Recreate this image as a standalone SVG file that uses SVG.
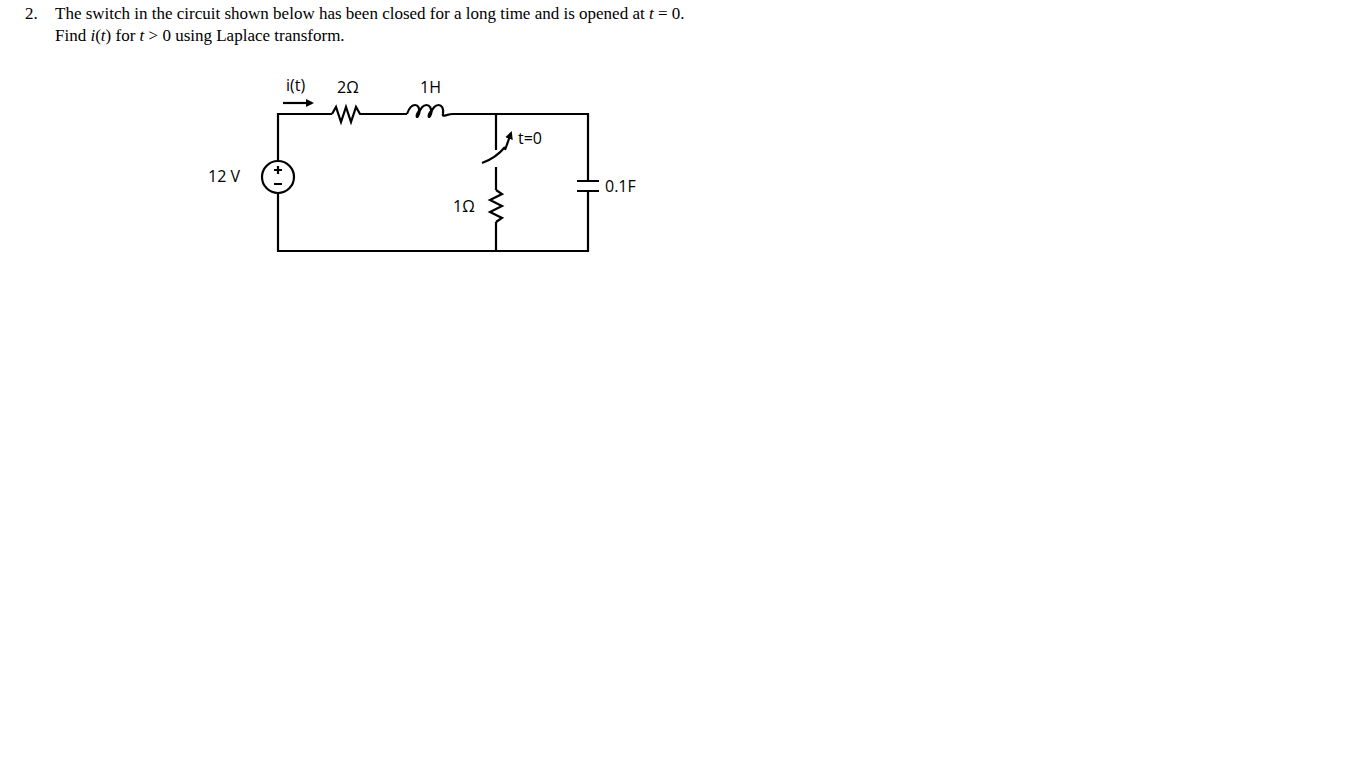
<svg xmlns="http://www.w3.org/2000/svg" width="1366" height="768" viewBox="0 0 1366 768">
<style>
.t{font-family:"Liberation Serif",serif;font-size:17px;fill:#000}
.l{font-family:"Open Sans","Liberation Sans",sans-serif;font-size:16px;fill:#000}
.w{fill:none;stroke:#000;stroke-width:2.2;stroke-linejoin:miter}
</style>
<defs><marker id="ah" markerWidth="8" markerHeight="8" refX="6" refY="4" orient="auto" markerUnits="userSpaceOnUse"><path d="M0,0 L8,4 L0,8 z" fill="#000"/></marker></defs>
<rect width="1366" height="768" fill="#fff"/>
<text class="t" x="25" y="19">2.</text>
<text class="t" x="55" y="19">The switch in the circuit shown below has been closed for a long time and is opened at <tspan font-style="italic">t</tspan> = 0.</text>
<text class="t" x="55" y="41">Find <tspan font-style="italic">i</tspan>(<tspan font-style="italic">t</tspan>) for <tspan font-style="italic">t</tspan> &gt; 0 using Laplace transform.</text>
<g id="connectors">
<path class="w" d="M278,161 V114 H332 M363,114 H407 M453,114 H588 V181 M588,191 V251 H278 V193 M496,114 V150 M496,167 V190 M496,222 V251"/>
<path class="w" d="M283,103 H312" marker-end="url(#ah)"/>
</g>
<g id="source"><circle class="w" cx="278" cy="177" r="16"/><path class="w" d="M274,170 h8 M278,166 v8 M274,184 h8"/><text class="l" x="208" y="182">12 V</text></g>
<g id="r2"><path class="w" d="M332,114 l4,-7 l5,15 l5,-15 l5,15 l5,-15 l4,7 h3"/><text class="l" x="337" y="93">2Ω</text></g>
<g id="l1"><path class="w" d="M407,114 c4,-12 14,-12 12,0 c-2,6 -4,2 0,-3 M419,114 c2,-12 14,-12 12,0 c-2,6 -4,2 0,-3 M431,114 c2,-12 14,-12 12,0 c-1,4 4,0 10,0"/><text class="l" x="420" y="93">1H</text></g>
<g id="switch"><path class="w" d="M482,163 Q496,158 505,147"/><path class="w" d="M505,150 L511,133" marker-end="url(#ah)"/><text class="l" x="518" y="144">t=0</text></g>
<g id="r1"><path class="w" d="M496,190 l6,4 l-12,6 l12,6 l-12,6 l12,6 l-6,4"/><text class="l" x="453" y="212">1Ω</text></g>
<g id="cap"><path class="w" d="M577,181 h22 M577,191 h22"/><text class="l" x="605" y="192">0.1F</text></g>
<text class="l" x="286" y="91">i(t)</text>
</svg>
